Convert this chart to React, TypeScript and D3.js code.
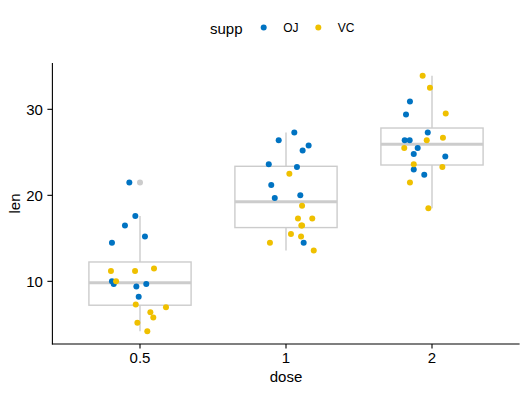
import * as d3 from "d3";
import { useMemo } from "react";

// ToothGrowth: tooth length by dose and supplement
const doses = ["0.5", "1", "2"];
const supps = ["OJ", "VC"];
const suppColours = ["#0073C2", "#EFC000"];

const lenOJ_05 = [15.2, 21.5, 17.6, 9.7, 14.5, 10.0, 8.2, 9.4, 16.5, 9.7];
const lenVC_05 = [4.2, 11.5, 7.3, 5.8, 6.4, 10.0, 11.2, 11.2, 5.2, 7.0];
const lenOJ_1 = [19.7, 23.3, 23.6, 26.4, 20.0, 25.2, 25.8, 21.2, 14.5, 27.3];
const lenVC_1 = [16.5, 16.5, 15.2, 17.3, 22.5, 17.3, 13.6, 14.5, 18.8, 15.5];
const lenOJ_2 = [25.5, 26.4, 22.4, 24.5, 24.8, 30.9, 26.4, 27.3, 29.4, 23.0];
const lenVC_2 = [23.6, 18.5, 33.9, 25.5, 26.4, 32.5, 26.7, 21.5, 23.3, 29.5];

// horizontal jitter, as a fraction of one category step
const jitOJ_05 = [0.034, -0.073, -0.032, -0.18, -0.192, -0.192, -0.009, -0.025, -0.103, 0.043];
const jitVC_05 = [0.05, 0.096, -0.029, 0.091, 0.071, -0.164, -0.199, -0.034, -0.018, 0.178];
const jitOJ_1 = [-0.077, 0.075, -0.118, -0.05, 0.098, 0.114, 0.155, -0.101, 0.121, 0.057];
const jitVC_1 = [0.105, 0.11, 0.103, 0.082, 0.023, 0.18, 0.19, -0.11, 0.11, 0.034];
const jitOJ_2 = [-0.098, -0.187, -0.053, 0.091, -0.125, -0.151, -0.153, -0.029, -0.178, -0.125];
const jitVC_2 = [-0.125, -0.025, -0.064, -0.19, -0.036, -0.014, 0.075, -0.151, 0.071, 0.094];

const yTicks = [10, 20, 30];

const W = 529;
const H = 393;
const margin = { left: 52.4, right: 9.4, top: 63, bottom: 49 };
const FONT = "'Liberation Sans', Arial, Helvetica, sans-serif";
const BOX = "#cccccc";

interface Pt {
  dose: string;
  supp: string;
  len: number;
  jit: number;
}

function buildPoints(): Pt[] {
  const groups: [string, string, number[], number[]][] = [
    ["0.5", "OJ", lenOJ_05, jitOJ_05],
    ["0.5", "VC", lenVC_05, jitVC_05],
    ["1", "OJ", lenOJ_1, jitOJ_1],
    ["1", "VC", lenVC_1, jitVC_1],
    ["2", "OJ", lenOJ_2, jitOJ_2],
    ["2", "VC", lenVC_2, jitVC_2],
  ];
  const out: Pt[] = [];
  groups.forEach(([dose, supp, lens, jits]) => {
    lens.forEach((len, i) => out.push({ dose, supp, len, jit: jits[i] }));
  });
  return out;
}

export default function App() {
  const points = useMemo(buildPoints, []);

  const all = points.map((p) => p.len);
  const [mn, mx] = d3.extent(all) as [number, number];
  const pad = (mx - mn) * 0.05;

  const x = d3
    .scalePoint<string>()
    .domain(doses)
    .range([margin.left, W - margin.right])
    .padding(0.6);
  const step = x.step();

  const y = d3
    .scaleLinear()
    .domain([mn - pad, mx + pad])
    .range([H - margin.bottom, margin.top]);

  const colour = d3.scaleOrdinal<string, string>().domain(supps).range(suppColours);

  const boxes = doses.map((dose) => {
    const v = points.filter((p) => p.dose === dose).map((p) => p.len).sort(d3.ascending);
    const q1 = d3.quantile(v, 0.25)!;
    const med = d3.quantile(v, 0.5)!;
    const q3 = d3.quantile(v, 0.75)!;
    const iqr = q3 - q1;
    const inside = v.filter((d) => d >= q1 - 1.5 * iqr && d <= q3 + 1.5 * iqr);
    const lo = d3.min(inside)!;
    const hi = d3.max(inside)!;
    const outliers = v.filter((d) => d < lo || d > hi);
    return { dose, q1, med, q3, lo, hi, outliers };
  });

  const bw = step * 0.7;
  const x0 = margin.left;
  const x1 = W - margin.right;
  const yb = H - margin.bottom;

  return (
    <svg width={W} height={H} style={{ position: "absolute", left: 0, top: 0 }} fontFamily={FONT}>
      <rect width={W} height={H} fill="#fff" />

      {/* legend */}
      <g>
        <text x={210} y={33.5} fontSize={15} fill="#000">supp</text>
        {supps.map((s, i) => (
          <g key={s} transform={`translate(${263.7 + i * 54.6},0)`}>
            <circle cx={0} cy={27.5} r={3} fill={colour(s)} />
            <text x={19.5} y={32} fontSize={12} fill="#000">{s}</text>
          </g>
        ))}
      </g>

      {/* boxes */}
      {boxes.map((b) => {
        const cx = x(b.dose)!;
        return (
          <g key={b.dose} stroke={BOX} fill="#fff">
            <line x1={cx} x2={cx} y1={y(b.hi)} y2={y(b.q3)} strokeWidth={1.4} />
            <line x1={cx} x2={cx} y1={y(b.q1)} y2={y(b.lo)} strokeWidth={1.4} />
            <rect x={cx - bw / 2} width={bw} y={y(b.q3)} height={y(b.q1) - y(b.q3)} strokeWidth={1.4} />
            <line x1={cx - bw / 2} x2={cx + bw / 2} y1={y(b.med)} y2={y(b.med)} strokeWidth={3} />
            {b.outliers.map((o, i) => (
              <circle key={i} cx={cx} cy={y(o)} r={3} fill={BOX} stroke="none" />
            ))}
          </g>
        );
      })}

      {/* jittered points */}
      {points.map((p, i) => (
        <circle key={i} cx={x(p.dose)! + p.jit * step} cy={y(p.len)} r={3} fill={colour(p.supp)} />
      ))}

      {/* axes */}
      <line x1={x0} x2={x0} y1={margin.top} y2={yb + 0.5} stroke="#000" strokeWidth={1.1} />
      <line x1={x0 - 0.5} x2={x1} y1={yb} y2={yb} stroke="#000" strokeWidth={1.1} />
      {yTicks.map((t) => (
        <g key={t}>
          <line x1={x0 - 5} x2={x0} y1={y(t)} y2={y(t)} stroke="#000" strokeWidth={1.1} />
          <text x={x0 - 9.5} y={y(t)} dy="0.36em" textAnchor="end" fontSize={15} fill="#000">{t}</text>
        </g>
      ))}
      {doses.map((d) => (
        <g key={d}>
          <line x1={x(d)} x2={x(d)} y1={yb} y2={yb + 4.5} stroke="#000" strokeWidth={1.1} />
          <text x={x(d)} y={yb + 19} textAnchor="middle" fontSize={15} fill="#000">{d}</text>
        </g>
      ))}
      <text x={(x0 + x1) / 2} y={382} textAnchor="middle" fontSize={15} fill="#000">dose</text>
      <text transform={`translate(19.5,${(margin.top + yb) / 2}) rotate(-90)`} textAnchor="middle" fontSize={15} fill="#000">len</text>
    </svg>
  );
}
